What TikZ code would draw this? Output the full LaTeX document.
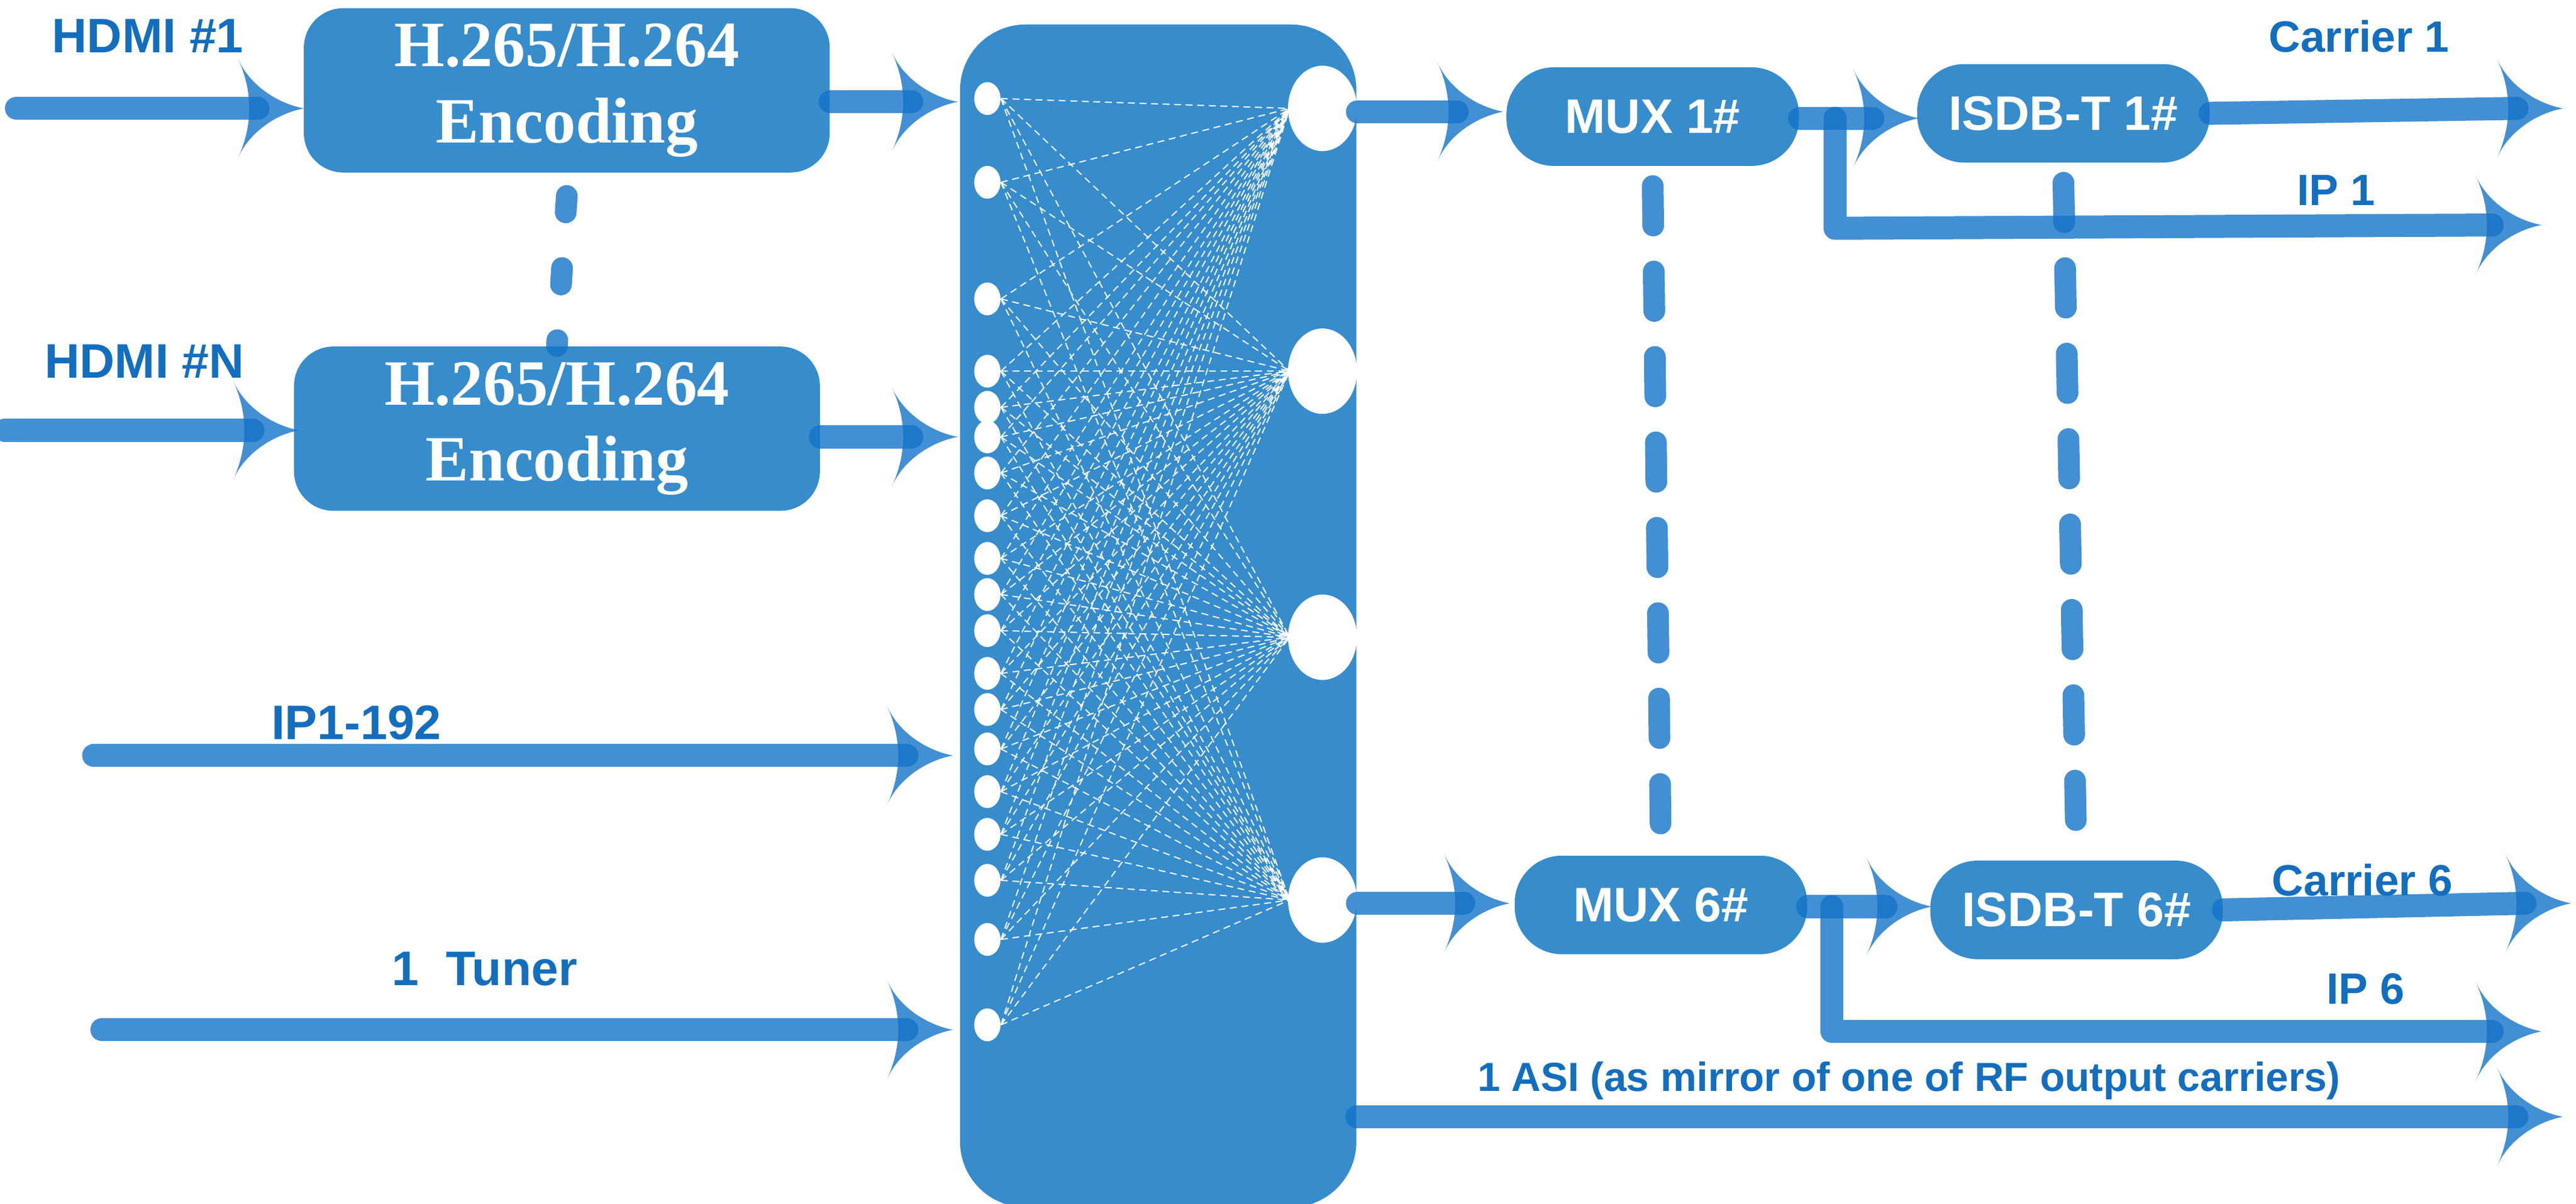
\documentclass[tikz,border=0pt]{standalone}
\usepackage{fontspec}
\setmainfont{Liberation Serif}
\setsansfont{Liberation Sans}
\usetikzlibrary{positioning,shapes.geometric}
\definecolor{boxblue}{RGB}{55,140,204}
\definecolor{lineblue}{RGB}{20,115,200}
\definecolor{textblue}{RGB}{20,110,190}
\newcommand\arrowtip[1]{%
	\fill[tipfill,shift={(#1)}] (0,0) .. controls (-16,-3) and (-33,-14) .. (-40,-30)
	.. controls (-31,-10) and (-31,10) .. (-40,30) .. controls (-33,14) and (-16,3) .. cycle;}
\newcommand\flowarrow[2]{%
	\draw[flow] (#1) -- ([xshift=-0.7cm]#2);
	\arrowtip{#2}}
\begin{document}
\begin{tikzpicture}%
	[x=0.025cm, y=-0.025cm,
	flow/.style={draw=lineblue, draw opacity=0.8, line width=0.35cm, line cap=round, line join=round},
	tipfill/.style={fill=lineblue, fill opacity=0.8},
	link/.style={draw=lineblue, draw opacity=0.8, line width=0.33cm, line cap=round, dash pattern=on 0.6cm off 0.7cm},
	encbox/.style={fill=boxblue, rounded corners=0.6cm, minimum width=8cm, minimum height=2.5cm,
		text=white, font=\fontsize{28}{33}\selectfont\bfseries, align=center},
	modbox/.style={fill=boxblue, rounded corners=0.72cm, minimum width=4.45cm, minimum height=1.5cm,
		text=white, font=\sffamily\fontsize{21}{24}\selectfont\bfseries},
	label/.style={text=textblue, font=\sffamily\fontsize{19}{22}\selectfont\bfseries, inner sep=0pt},
	biglabel/.style={label, font=\sffamily\fontsize{21}{24}\selectfont\bfseries},
	inport/.style={fill=white, ellipse, minimum width=0.4cm, minimum height=0.5cm, inner sep=0pt},
	outport/.style={fill=white, ellipse, minimum width=1.05cm, minimum height=1.3cm, inner sep=0pt},
	cross/.style={white, line width=0.5pt, dash pattern=on 3pt off 2pt}]
	\useasboundingbox (0,0) rectangle (1568,733);
	%
	% encoders
	\node[encbox] (enc1) at (345,55) {H.265/H.264\\Encoding};
	\node[encbox] (enc2) at (339,261) {H.265/H.264\\Encoding};
	\draw[link, dash pattern=on 0.25cm off 0.85cm] ([yshift=-0.35cm]enc1.south) -- (enc2.north);
	%
	% matrix
	\node[fill=boxblue, rounded corners=1cm, minimum width=6.03cm, minimum height=18cm, inner sep=0pt] (matrix) at (705,375) {};
	\foreach \y [count=\i] in {60,111,182,226,248,266,288,314,340,362,384,410,432,456,482,508,536,572,624}
		\node[inport] (in\i) at (601,\y) {};
	\foreach \y [count=\j] in {66,226,388,548}
		\node[outport] (out\j) at (805,\y) {};
	\foreach \i in {1,...,19}
		\foreach \j in {1,...,4}
			\draw[cross] (in\i.east) -- ([xshift=-0.5cm]out\j.center);
	%
	% inputs
	\node[biglabel] (hdmi1) at (90,22) {HDMI \#1};
	\node[biglabel] (hdmin) at (88,220) {HDMI \#N};
	\node[biglabel] (iplab) at (217,440) {IP1-192};
	\node[biglabel] (tunerlab) at (295,590) {1\ \ Tuner};
	\coordinate (h1) at (10,66);
	\coordinate (hn) at (3,262);
	\coordinate (ipin) at (57,460);
	\coordinate (tunin) at (62,627);
	\flowarrow{h1}{185,66}
	\flowarrow{hn}{182,262}
	\flowarrow{enc1.east |- 0,62}{583,62}
	\flowarrow{enc2.east |- 0,266}{583,266}
	\flowarrow{ipin}{580,460}
	\flowarrow{tunin}{580,627}
	%
	% muxes and modulators
	\node[modbox] (mux1) at (1006,71) {MUX 1\#};
	\node[modbox] (mux6) at (1011,551) {MUX 6\#};
	\node[modbox] (isdb1) at (1256,69) {ISDB-T 1\#};
	\node[modbox] (isdb6) at (1264,554) {ISDB-T 6\#};
	\draw[link] ([yshift=-0.3cm]mux1.south) -- (mux6.north);
	\draw[link] ([yshift=-0.3cm]isdb1.south) -- (isdb6.north);
	\flowarrow{out1.east |- 0,68}{915,68}
	\flowarrow{out4.east |- 0,550}{919,550}
	\flowarrow{mux1.east |- 0,72}{1168,72}
	\flowarrow{mux6.east |- 0,552}{1176,552}
	%
	% outputs
	\coordinate (br1) at (1117,72);
	\coordinate (br6) at (1115,552);
	\draw[flow] (br1) -- (1117,139) -- (1517,137);
	\arrowtip{1547,137}
	\draw[flow] (br6) -- (1115,628) -- (1517,628);
	\arrowtip{1547,628}
	\flowarrow{isdb1.east}{1560,66}
	\flowarrow{isdb6.east}{1565,550}
	\flowarrow{matrix.east |- 0,680}{1560,680}
	\node[label] (car1) at (1436,22) {Carrier 1};
	\node[label] (ip1) at (1422,116) {IP 1};
	\node[label] (car6) at (1438,536) {Carrier 6};
	\node[label] (ip6) at (1440,602) {IP 6};
	\node[label, font=\sffamily\fontsize{17.6}{20}\selectfont\bfseries] (asi) at (1162,658) {1 ASI (as mirror of one of RF output carriers)};
\end{tikzpicture}
\end{document}
